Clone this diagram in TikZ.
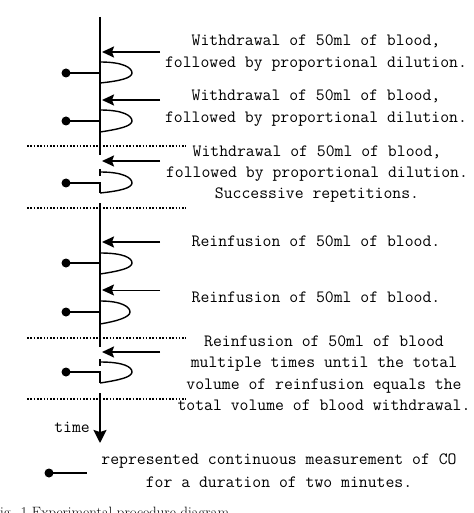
\documentclass[tikz,border=0pt]{standalone}
\usetikzlibrary{arrows.meta}
\begin{document}
\begin{tikzpicture}[x=1bp, y=-1bp,
  every node/.style={inner sep=0pt},
  dot/.style={circle, fill, minimum size=9bp},
  note/.style={font=\fontsize{17.3}{21.5}\selectfont\ttfamily, align=center},
  axis/.style={line width=2bp},
  feed/.style={line width=2bp, -{Stealth[length=12bp, width=11bp, inset=2bp]}},
  wave/.style={line width=1.4bp},
  probe/.style={line width=1.5bp},
  sep/.style={line width=1.4bp, dash pattern=on 1.6bp off 1.7bp}]
  \useasboundingbox (0,0) rectangle (474,513);
  % time axis
  \coordinate (l0) at (100,17);
  \coordinate (l1) at (100,155);
  \coordinate (l2) at (100,203);
  \coordinate (l3) at (100,347);
  \coordinate (l4) at (100,393);
  \coordinate (l5) at (100,443);
  \draw[axis] (l0) -- (l1);
  \draw[axis] (l2) -- (l3);
  \draw[axis, -{Stealth[length=13bp, width=13bp, inset=2bp]}] (l4) -- (l5);
  \node (time) [note, anchor=east] at (90,427) {time};
  % dotted separators
  \coordinate (sl1) at (27,146); \coordinate (sr1) at (186,146);
  \coordinate (sl2) at (27,208); \coordinate (sr2) at (186,208);
  \coordinate (sl3) at (27,338); \coordinate (sr3) at (186,338);
  \coordinate (sl4) at (27,399); \coordinate (sr4) at (186,399);
  \draw[sep] (sl1) -- (sr1);
  \draw[sep] (sl2) -- (sr2);
  \draw[sep] (sl3) -- (sr3);
  \draw[sep] (sl4) -- (sr4);
  % incoming arrows
  \coordinate (a1) at (160,52);  \coordinate (e1) at (102,52);
  \coordinate (a2) at (160,100); \coordinate (e2) at (102,100);
  \coordinate (a3) at (160,161); \coordinate (e3) at (102,161);
  \coordinate (a4) at (160,242); \coordinate (e4) at (102,242);
  \coordinate (a5) at (160,290); \coordinate (e5) at (102,290);
  \coordinate (a6) at (160,352); \coordinate (e6) at (102,352);
  \draw[feed] (a1) -- (e1);
  \draw[feed] (a2) -- (e2);
  \draw[feed] (a3) -- (e3);
  \draw[feed] (a4) -- (e4);
  \draw[feed, line width=1bp] (a5) -- (e5);
  \draw[feed] (a6) -- (e6);
  % measurement curves
  \draw[wave] (100,62) .. controls (124,62) and (132,68) .. (132,73) .. controls (132,78) and (120,81) .. (100,83);
  \draw[wave] (100,110) .. controls (124,110) and (132,116) .. (132,121) .. controls (132,126) and (120,129) .. (100,132);
  \draw[wave] (100,172) .. controls (124,172) and (132,178) .. (132,183) .. controls (132,188) and (120,191) .. (100,193);
  \draw[wave] (100,253) .. controls (124,253) and (132,258) .. (132,263) .. controls (132,268) and (120,271) .. (100,274);
  \draw[wave] (100,301) .. controls (122,301) and (130,307) .. (130,312) .. controls (130,317) and (118,321) .. (100,324);
  \draw[wave] (100,362) .. controls (124,362) and (132,367) .. (132,372) .. controls (132,377) and (120,380) .. (100,383);
  \draw[axis] (100,169) -- (100,176);
  \draw[axis] (100,359) -- (100,366);
  % measurement dots
  \node (d1) [dot] at (66,73) {};
  \node (d2) [dot] at (66,121) {};
  \node (d3) [dot] at (66,183) {};
  \node (d4) [dot] at (66,263) {};
  \node (d5) [dot] at (66,312) {};
  \node (d6) [dot] at (66,372) {};
  \coordinate (m1) at (100,73);
  \coordinate (m2) at (100,121);
  \coordinate (m3) at (100,183);
  \coordinate (m4) at (100,263);
  \coordinate (m5) at (100,312);
  \coordinate (m6) at (100,372);
  \coordinate (n3) at (100,193);
  \coordinate (n6) at (100,383);
  \draw[probe] (d1.center) -- (m1);
  \draw[probe] (d2.center) -- (m2);
  \draw[probe] (d3.center) -- (m3) -- (n3);
  \draw[probe] (d4.center) -- (m4);
  \draw[probe] (d5.center) -- (m5);
  \draw[probe] (d6.center) -- (m6) -- (n6);
  % notes
  \node (t1) [note] at (316,53) {Withdrawal of 50ml of blood,\\followed by proportional dilution.};
  \node (t2) [note] at (316,108) {Withdrawal of 50ml of blood,\\followed by proportional dilution.};
  \node (t3) [note] at (317,174) {Withdrawal of 50ml of blood,\\followed by proportional dilution.\\Successive repetitions.};
  \node (t4) [note] at (316,241) {Reinfusion of 50ml of blood.};
  \node (t5) [note] at (316,297) {Reinfusion of 50ml of blood.};
  \node (t6) [note] at (324,373) {Reinfusion of 50ml of blood\\multiple times until the total\\volume of reinfusion equals the\\total volume of blood withdrawal.};
  % legend
  \node (dl) [dot] at (49,473) {};
  \coordinate (ml) at (87,473);
  \draw[probe] (dl.center) -- (ml);
  \node (leg) [note, font=\fontsize{17.3}{23}\selectfont\ttfamily] at (279,471) {represented continuous measurement of CO\\for a duration of two minutes.};
  \node (cap) [anchor=base west, font=\fontsize{15}{18}\selectfont] at (-9,517) {Fig. 1 Experimental procedure diagram};
\end{tikzpicture}
\end{document}
